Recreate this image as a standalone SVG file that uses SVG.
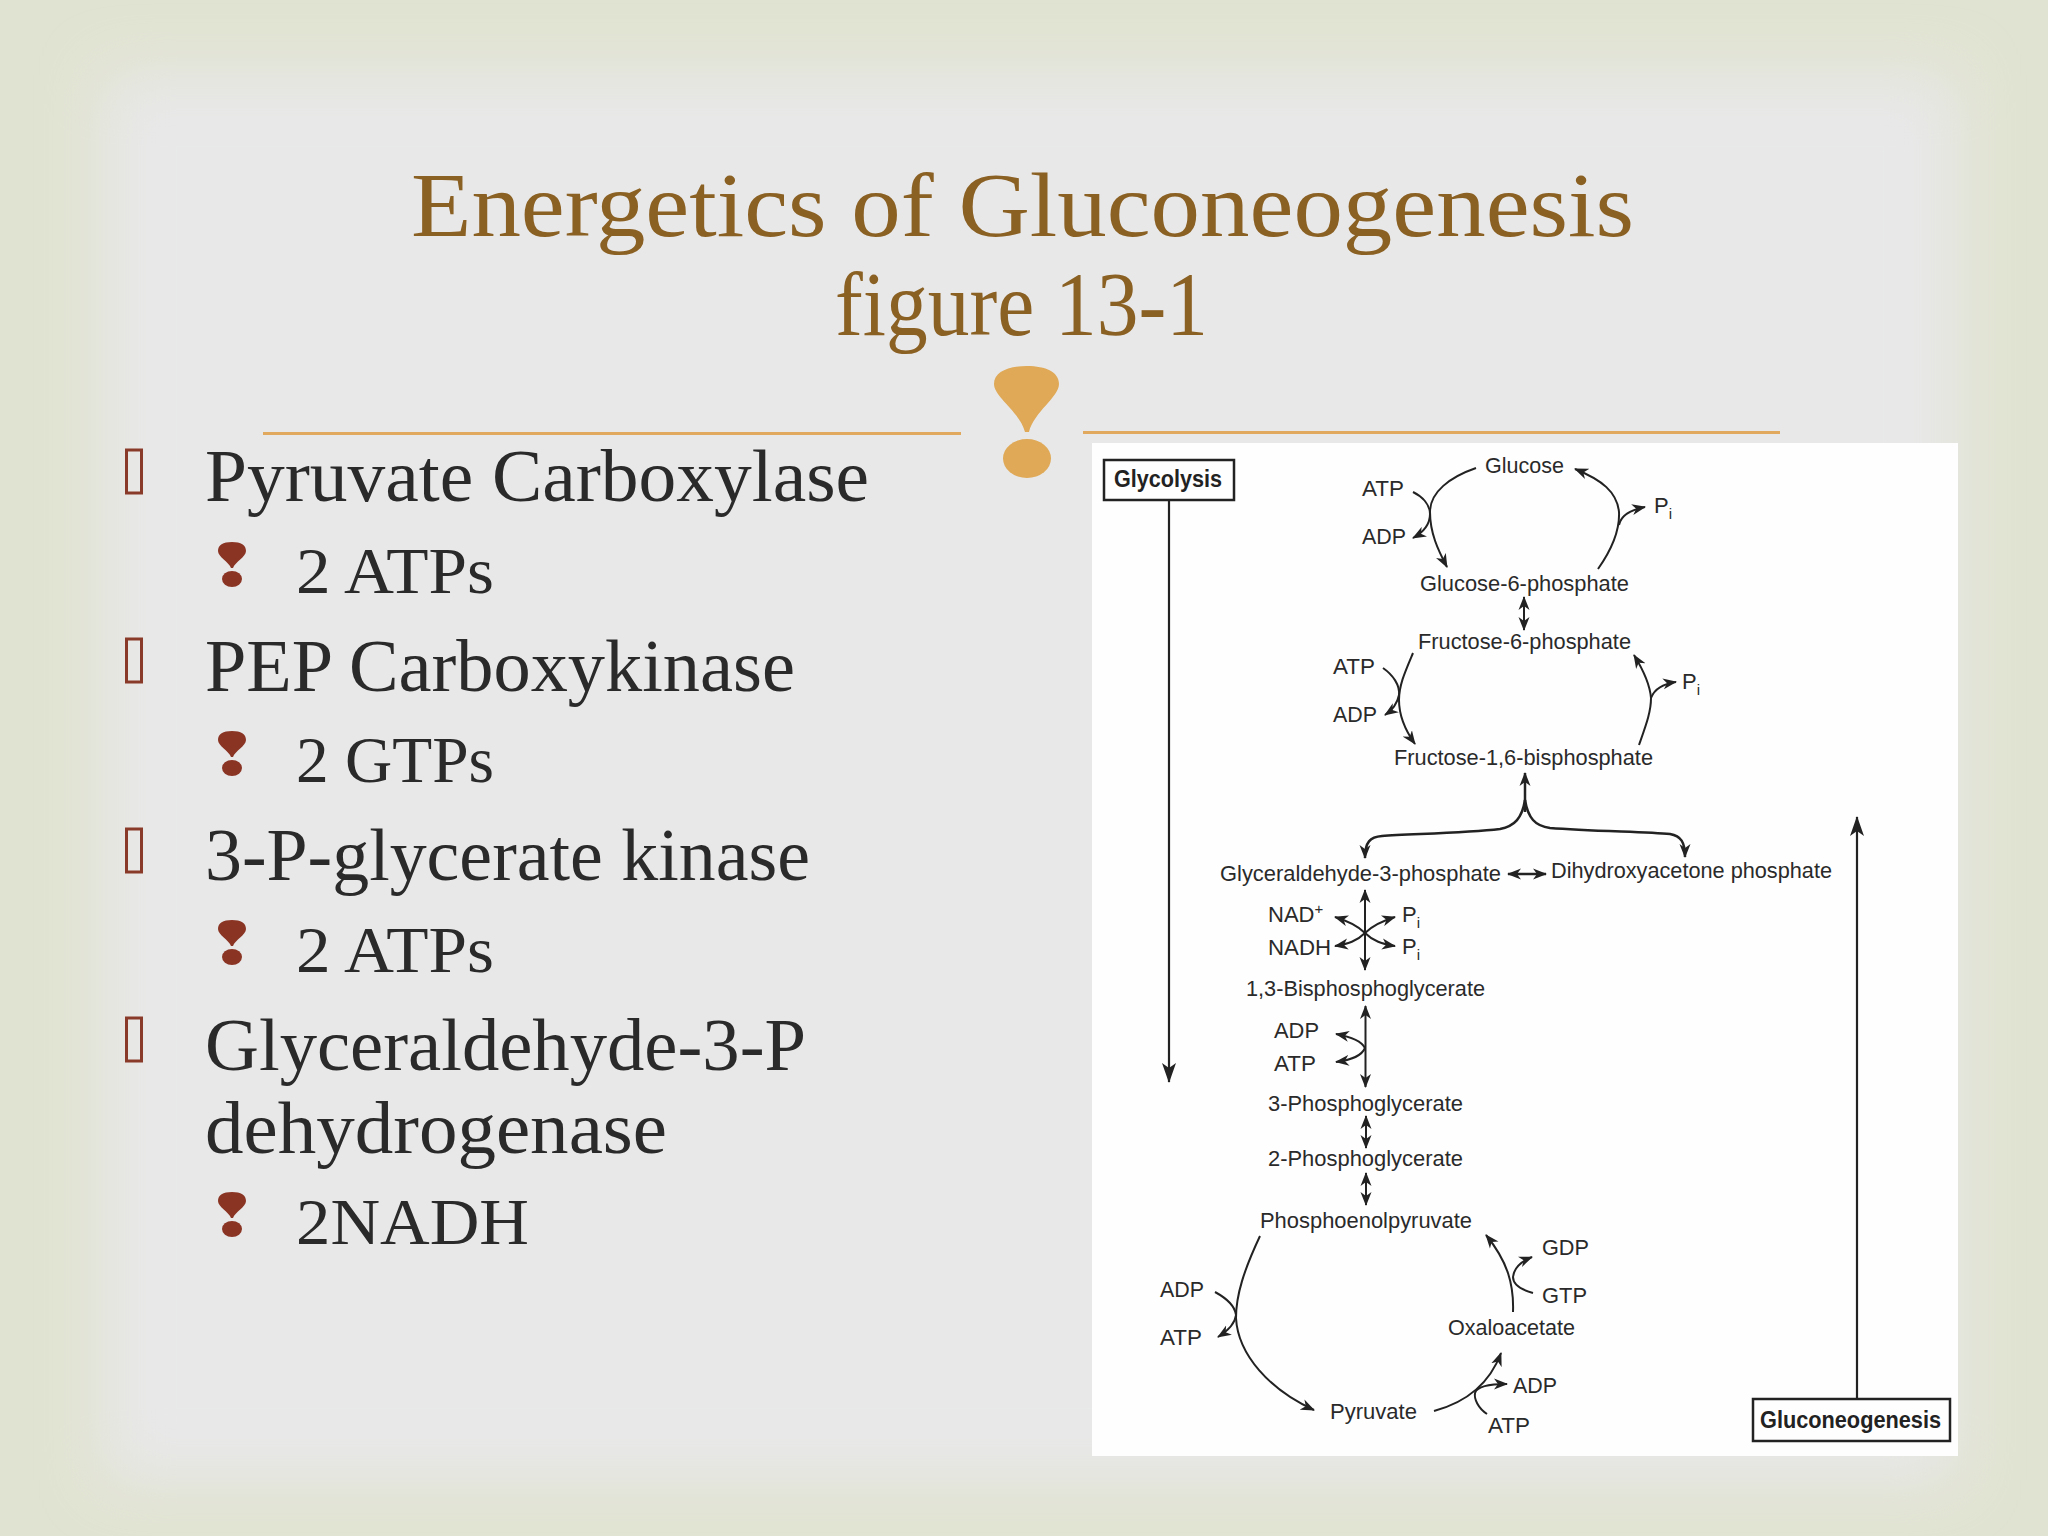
<svg xmlns="http://www.w3.org/2000/svg" width="2048" height="1536" viewBox="0 0 2048 1536">
<defs>
<filter id="soft" x="-10%" y="-10%" width="120%" height="120%"><feGaussianBlur stdDeviation="30"/></filter>
<marker id="ah" viewBox="0 0 14 12" refX="13" refY="6" markerWidth="14" markerHeight="12" markerUnits="userSpaceOnUse" orient="auto-start-reverse"><path d="M0,0.500 L14,6 L0,11.500 L4,6 Z" fill="#222"/></marker>
<marker id="ahBig" viewBox="0 0 20 14" refX="19" refY="7" markerWidth="20" markerHeight="14" markerUnits="userSpaceOnUse" orient="auto-start-reverse"><path d="M0,0 L20,7 L0,14 L5,7 Z" fill="#222"/></marker>
<g id="drop"><path d="M14,0 C23,0 28,3 28,9 C28,15 17,20 15,26 L13,26 C11,20 0,15 0,9 C0,3 5,0 14,0 Z"/><ellipse cx="14" cy="37" rx="10" ry="8"/></g>
</defs>
<style>
.title{font-family:"Liberation Serif",serif;font-size:92px;fill:#8b6023}
.b1{font-family:"Liberation Serif",serif;font-size:74px;fill:#2a2a2a}
.b2{font-family:"Liberation Serif",serif;font-size:65px;fill:#2a2a2a}
.box{fill:none;stroke:#222;stroke-width:2.5}
.hb{fill:none;stroke:#8a3a28;stroke-width:3}
.l{font-family:"Liberation Sans",sans-serif;font-size:22px;fill:#2a2a2a}
.bl{font-family:"Liberation Sans",sans-serif;font-size:23px;font-weight:bold;fill:#222}
.sub{font-size:15px}
.c{fill:none;stroke:#222;stroke-width:2}
.t{stroke-width:2.5}
.e{marker-end:url(#ah)}
.d{marker-start:url(#ah);marker-end:url(#ah)}
.big{fill:none;stroke:#222;stroke-width:2.2;marker-end:url(#ahBig)}
.rule{stroke:#e0a95e;stroke-width:3;fill:none}
</style>
<rect width="2048" height="1536" fill="#e1e3d2"/>
<rect x="105" y="75" width="1850" height="1405" fill="#e8e8e9" filter="url(#soft)"/>

<text class="title" x="411" y="236" textLength="1223" lengthAdjust="spacingAndGlyphs">Energetics of Gluconeogenesis</text>
<text class="title" x="835" y="335" textLength="373" lengthAdjust="spacingAndGlyphs">figure 13-1</text>

<path class="rule" d="M263,433.500H961M1083,432.500H1780"/>
<path fill="#dfa957" d="M1027,366 C1046,366 1059,372 1059,384 C1059,397 1034,412 1029,432 L1025,432 C1020,412 994,397 994,384 C994,372 1008,366 1027,366 Z"/>
<ellipse cx="1027" cy="458.500" rx="24" ry="19.500" fill="#dfa957"/>

<rect class="hb" x="126.500" y="450" width="15" height="43"/>
<rect class="hb" x="126.500" y="639" width="15" height="43"/>
<rect class="hb" x="126.500" y="829" width="15" height="43"/>
<rect class="hb" x="126.500" y="1018" width="15" height="43"/>
<g fill="#8a3424">
<use href="#drop" x="218" y="542"/>
<use href="#drop" x="218" y="731"/>
<use href="#drop" x="218" y="920"/>
<use href="#drop" x="218" y="1192"/>
</g>
<text class="b1" x="205" y="501" textLength="664" lengthAdjust="spacingAndGlyphs">Pyruvate Carboxylase</text>
<text class="b2" x="296" y="593" textLength="198" lengthAdjust="spacingAndGlyphs">2 ATPs</text>
<text class="b1" x="205" y="691" textLength="590" lengthAdjust="spacingAndGlyphs">PEP Carboxykinase</text>
<text class="b2" x="296" y="782" textLength="198" lengthAdjust="spacingAndGlyphs">2 GTPs</text>
<text class="b1" x="205" y="880" textLength="605" lengthAdjust="spacingAndGlyphs">3-P-glycerate kinase</text>
<text class="b2" x="296" y="972" textLength="198" lengthAdjust="spacingAndGlyphs">2 ATPs</text>
<text class="b1" x="205" y="1070" textLength="601" lengthAdjust="spacingAndGlyphs">Glyceraldehyde-3-P</text>
<text class="b1" x="205" y="1153" textLength="462" lengthAdjust="spacingAndGlyphs">dehydrogenase</text>
<text class="b2" x="296" y="1244" textLength="233" lengthAdjust="spacingAndGlyphs">2NADH</text>

<rect x="1092" y="443" width="866" height="1013" fill="#fefefe"/>

<g id="connectors">
<path class="big" d="M1169,500V1082"/>
<path class="big" d="M1857,1399V817"/>
<path class="c e" d="M1476,468 C1450,477 1430,492 1430,512 C1430,533 1438,550 1447,567"/>
<path class="c e" d="M1413,492 C1423,497 1430,505 1430,514 C1430,525 1422,533 1413,538"/>
<path class="c e" d="M1598,569 C1610,552 1620,532 1619,512 C1617,492 1602,480 1575,469"/>
<path class="c e" d="M1619,525 C1621,515 1630,510 1645,507"/>
<path class="c d" d="M1524,597V630"/>
<path class="c e" d="M1413,653 C1405,672 1399,685 1399,700 C1399,715 1405,730 1415,744"/>
<path class="c e" d="M1383,668 C1393,675 1400,685 1399,695 C1397,705 1391,711 1385,715"/>
<path class="c e" d="M1639,745 C1646,725 1651,712 1651,698 C1650,685 1642,668 1634,655"/>
<path class="c e" d="M1651,698 C1654,690 1662,684 1676,682"/>
<path class="c t e" d="M1525,812V773"/>
<path class="c t e" d="M1525,800 C1522,818 1515,826 1500,829 C1465,833 1410,834 1382,836 C1370,837 1365,842 1365,858"/>
<path class="c t e" d="M1525,800 C1528,818 1535,826 1550,828 C1590,831 1645,832 1670,834 C1681,836 1685,842 1685,857"/>
<path class="c t d" d="M1508,874H1546"/>
<path class="c d" d="M1365,890V970"/>
<path class="c e" d="M1365,933 C1357,925 1348,921 1335,917"/>
<path class="c e" d="M1365,933 C1357,941 1348,944 1335,946"/>
<path class="c e" d="M1365,933 C1373,925 1382,921 1395,917"/>
<path class="c e" d="M1365,933 C1373,941 1382,944 1395,946"/>
<path class="c d" d="M1365.500,1006V1087"/>
<path class="c e" d="M1365,1048 C1362,1042 1352,1037 1336,1034"/>
<path class="c e" d="M1365,1048 C1362,1055 1352,1060 1336,1062"/>
<path class="c d" d="M1366,1116V1148"/>
<path class="c d" d="M1366,1173V1205"/>
<path class="c e" d="M1260,1236 C1244,1270 1236,1295 1236,1318 C1238,1355 1270,1390 1314,1410"/>
<path class="c e" d="M1215,1292 C1226,1298 1235,1306 1236,1315 C1235,1324 1226,1332 1218,1337"/>
<path class="c e" d="M1513,1312 C1514,1285 1508,1262 1486,1235"/>
<path class="c e" d="M1533,1293 C1522,1290 1513,1285 1513,1277 C1514,1268 1522,1261 1532,1257"/>
<path class="c e" d="M1434,1411 C1460,1404 1488,1388 1501,1353"/>
<path class="c e" d="M1487,1414 C1478,1408 1474,1399 1475,1393 C1477,1386 1490,1384 1507,1384"/>
</g>

<g id="glycolysis"><rect class="box" x="1104" y="460" width="130" height="40"/><text class="bl" x="1114" y="487" textLength="108" lengthAdjust="spacingAndGlyphs">Glycolysis</text></g>
<g id="gluconeogenesis"><rect class="box" x="1753" y="1399" width="197" height="42"/><text class="bl" x="1760" y="1428" textLength="181" lengthAdjust="spacingAndGlyphs">Gluconeogenesis</text></g>
<g id="glucose"><text class="l" x="1485" y="473" textLength="79" lengthAdjust="spacingAndGlyphs">Glucose</text></g>
<g id="atp1"><text class="l" x="1362" y="496" textLength="42" lengthAdjust="spacingAndGlyphs">ATP</text></g>
<g id="adp1"><text class="l" x="1362" y="544" textLength="44" lengthAdjust="spacingAndGlyphs">ADP</text></g>
<g id="pi1"><text class="l" x="1654" y="513">P<tspan class="sub" dy="6">i</tspan></text></g>
<g id="g6p"><text class="l" x="1420" y="591" textLength="209" lengthAdjust="spacingAndGlyphs">Glucose-6-phosphate</text></g>
<g id="f6p"><text class="l" x="1418" y="649" textLength="213" lengthAdjust="spacingAndGlyphs">Fructose-6-phosphate</text></g>
<g id="atp2"><text class="l" x="1333" y="674" textLength="42" lengthAdjust="spacingAndGlyphs">ATP</text></g>
<g id="adp2"><text class="l" x="1333" y="722" textLength="44" lengthAdjust="spacingAndGlyphs">ADP</text></g>
<g id="pi2"><text class="l" x="1682" y="689">P<tspan class="sub" dy="6">i</tspan></text></g>
<g id="f16bp"><text class="l" x="1394" y="765" textLength="259" lengthAdjust="spacingAndGlyphs">Fructose-1,6-bisphosphate</text></g>
<g id="gap"><text class="l" x="1220" y="881" textLength="281" lengthAdjust="spacingAndGlyphs">Glyceraldehyde-3-phosphate</text></g>
<g id="dhap"><text class="l" x="1551" y="878" textLength="281" lengthAdjust="spacingAndGlyphs">Dihydroxyacetone phosphate</text></g>
<g id="nad"><text class="l" x="1268" y="922">NAD<tspan class="sub" dy="-8">+</tspan></text></g>
<g id="nadh"><text class="l" x="1268" y="955" textLength="63" lengthAdjust="spacingAndGlyphs">NADH</text></g>
<g id="pi3"><text class="l" x="1402" y="922">P<tspan class="sub" dy="6">i</tspan></text></g>
<g id="pi4"><text class="l" x="1402" y="954">P<tspan class="sub" dy="6">i</tspan></text></g>
<g id="bpg"><text class="l" x="1246" y="996" textLength="239" lengthAdjust="spacingAndGlyphs">1,3-Bisphosphoglycerate</text></g>
<g id="adp3"><text class="l" x="1274" y="1038" textLength="45" lengthAdjust="spacingAndGlyphs">ADP</text></g>
<g id="atp3"><text class="l" x="1274" y="1071" textLength="42" lengthAdjust="spacingAndGlyphs">ATP</text></g>
<g id="pg3"><text class="l" x="1268" y="1111" textLength="195" lengthAdjust="spacingAndGlyphs">3-Phosphoglycerate</text></g>
<g id="pg2"><text class="l" x="1268" y="1166" textLength="195" lengthAdjust="spacingAndGlyphs">2-Phosphoglycerate</text></g>
<g id="pep"><text class="l" x="1260" y="1228" textLength="212" lengthAdjust="spacingAndGlyphs">Phosphoenolpyruvate</text></g>
<g id="gdp"><text class="l" x="1542" y="1255" textLength="47" lengthAdjust="spacingAndGlyphs">GDP</text></g>
<g id="gtp"><text class="l" x="1542" y="1303" textLength="45" lengthAdjust="spacingAndGlyphs">GTP</text></g>
<g id="oaa"><text class="l" x="1448" y="1335" textLength="127" lengthAdjust="spacingAndGlyphs">Oxaloacetate</text></g>
<g id="adp4"><text class="l" x="1160" y="1297" textLength="44" lengthAdjust="spacingAndGlyphs">ADP</text></g>
<g id="atp4"><text class="l" x="1160" y="1345" textLength="42" lengthAdjust="spacingAndGlyphs">ATP</text></g>
<g id="pyruvate"><text class="l" x="1330" y="1419" textLength="87" lengthAdjust="spacingAndGlyphs">Pyruvate</text></g>
<g id="adp5"><text class="l" x="1513" y="1393" textLength="44" lengthAdjust="spacingAndGlyphs">ADP</text></g>
<g id="atp5"><text class="l" x="1488" y="1433" textLength="42" lengthAdjust="spacingAndGlyphs">ATP</text></g>
</svg>
